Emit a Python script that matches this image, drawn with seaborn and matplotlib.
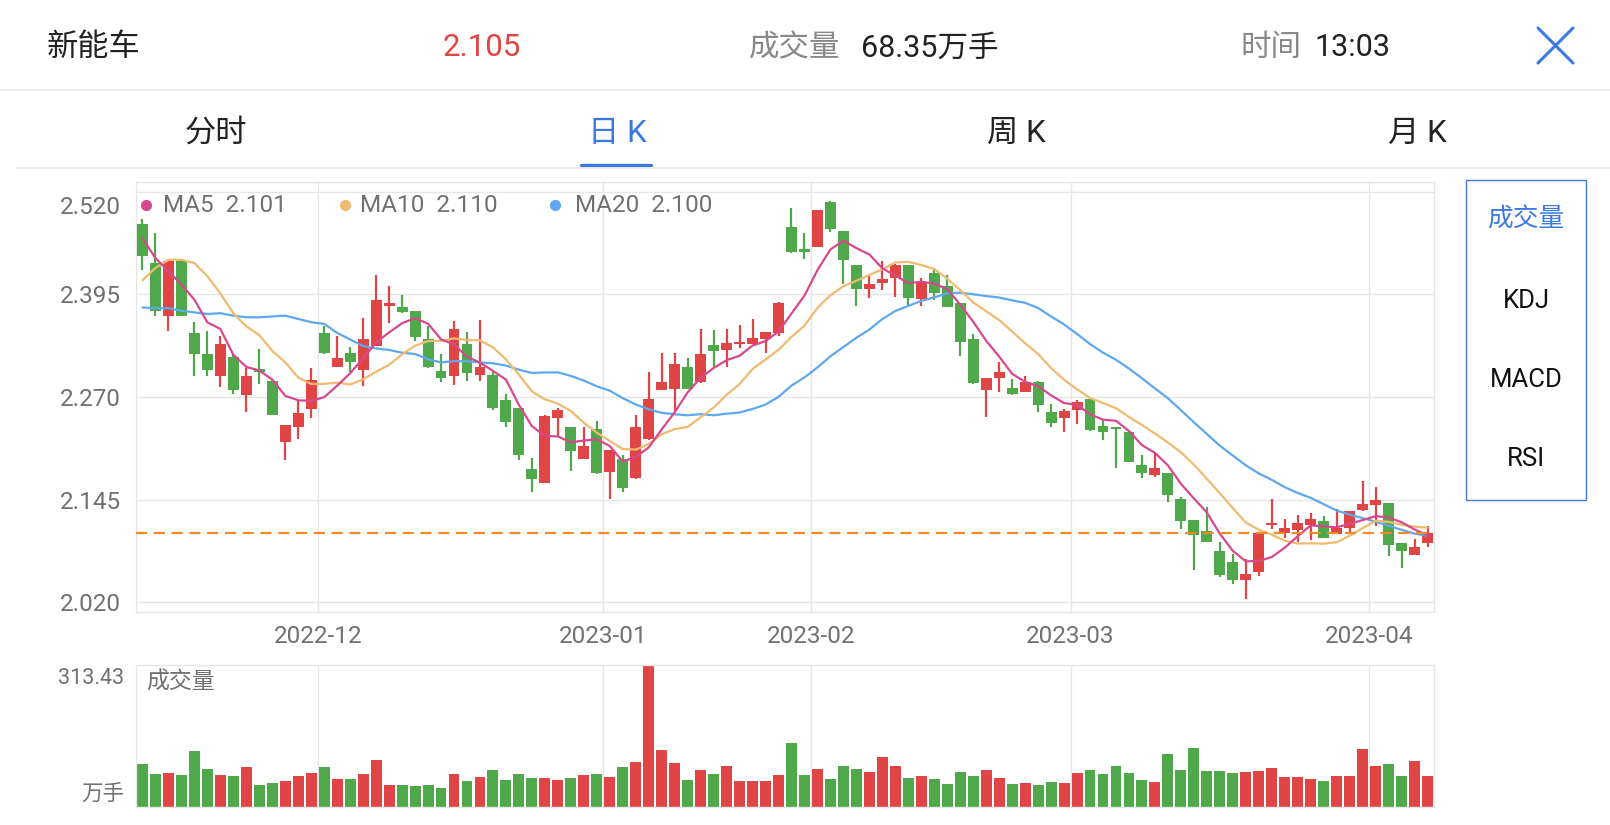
# plot.py -- daily K chart (新能车) with MA lines and volume panel
import numpy as np
import pandas as pd
import seaborn as sns
import matplotlib.pyplot as plt
import matplotlib.transforms as mtransforms
from matplotlib.lines import Line2D
from matplotlib.patches import Rectangle

sns.set_theme(style="white")
plt.rcParams['font.family'] = ['Roboto', 'Noto Sans CJK SC', 'DejaVu Sans']

# --- data (100 trading days, 2022-11-11 .. 2023-04-10)
opens = [2.481, 2.433, 2.368, 2.435, 2.348, 2.322, 2.295, 2.319, 2.272, 2.304,
         2.290, 2.215, 2.234, 2.255, 2.348, 2.307, 2.324, 2.303, 2.332, 2.381,
         2.380, 2.375, 2.341, 2.302, 2.295, 2.334, 2.297, 2.297, 2.266, 2.257,
         2.182, 2.165, 2.244, 2.233, 2.195, 2.231, 2.179, 2.194, 2.172, 2.219,
         2.278, 2.280, 2.307, 2.288, 2.333, 2.327, 2.334, 2.335, 2.340, 2.348,
         2.477, 2.450, 2.452, 2.507, 2.472, 2.431, 2.401, 2.409, 2.415, 2.431,
         2.389, 2.421, 2.405, 2.384, 2.340, 2.278, 2.293, 2.281, 2.276, 2.288,
         2.252, 2.245, 2.254, 2.268, 2.235, 2.233, 2.227, 2.187, 2.175, 2.178,
         2.146, 2.120, 2.107, 2.083, 2.069, 2.047, 2.057, 2.114, 2.104, 2.108,
         2.114, 2.119, 2.103, 2.111, 2.133, 2.138, 2.141, 2.092, 2.078, 2.092]
closes = [2.441, 2.375, 2.435, 2.369, 2.322, 2.303, 2.335, 2.278, 2.295, 2.300,
          2.248, 2.236, 2.251, 2.291, 2.323, 2.318, 2.312, 2.341, 2.388, 2.384,
          2.374, 2.343, 2.307, 2.293, 2.353, 2.299, 2.307, 2.257, 2.240, 2.199,
          2.170, 2.247, 2.254, 2.204, 2.210, 2.178, 2.206, 2.159, 2.233, 2.267,
          2.288, 2.310, 2.280, 2.322, 2.326, 2.336, 2.337, 2.342, 2.349, 2.384,
          2.446, 2.446, 2.497, 2.475, 2.437, 2.401, 2.407, 2.413, 2.431, 2.391,
          2.409, 2.396, 2.379, 2.337, 2.287, 2.293, 2.300, 2.274, 2.288, 2.260,
          2.238, 2.253, 2.264, 2.230, 2.227, 2.231, 2.191, 2.178, 2.183, 2.151,
          2.119, 2.102, 2.093, 2.053, 2.047, 2.055, 2.104, 2.117, 2.110, 2.117,
          2.121, 2.098, 2.111, 2.131, 2.140, 2.145, 2.090, 2.082, 2.087, 2.105]
highs = [2.487, 2.469, 2.437, 2.437, 2.361, 2.350, 2.344, 2.322, 2.305, 2.329,
         2.291, 2.236, 2.265, 2.305, 2.357, 2.344, 2.331, 2.366, 2.419, 2.405,
         2.394, 2.375, 2.356, 2.322, 2.362, 2.349, 2.364, 2.301, 2.274, 2.257,
         2.196, 2.248, 2.257, 2.233, 2.233, 2.241, 2.206, 2.200, 2.248, 2.300,
         2.323, 2.323, 2.318, 2.353, 2.352, 2.353, 2.358, 2.365, 2.349, 2.386,
         2.500, 2.470, 2.498, 2.508, 2.472, 2.431, 2.417, 2.435, 2.432, 2.431,
         2.415, 2.424, 2.418, 2.384, 2.347, 2.293, 2.312, 2.292, 2.295, 2.289,
         2.262, 2.256, 2.266, 2.269, 2.242, 2.233, 2.227, 2.199, 2.202, 2.178,
         2.148, 2.120, 2.136, 2.093, 2.079, 2.073, 2.104, 2.146, 2.122, 2.127,
         2.129, 2.125, 2.134, 2.131, 2.168, 2.160, 2.141, 2.092, 2.097, 2.113]
lows = [2.424, 2.369, 2.350, 2.368, 2.295, 2.295, 2.282, 2.274, 2.252, 2.286,
        2.248, 2.193, 2.219, 2.244, 2.322, 2.307, 2.301, 2.283, 2.332, 2.360,
        2.372, 2.338, 2.305, 2.288, 2.284, 2.289, 2.290, 2.254, 2.234, 2.193,
        2.154, 2.165, 2.223, 2.180, 2.195, 2.176, 2.146, 2.155, 2.170, 2.218,
        2.278, 2.252, 2.280, 2.287, 2.307, 2.307, 2.330, 2.335, 2.324, 2.344,
        2.445, 2.438, 2.452, 2.471, 2.407, 2.381, 2.390, 2.400, 2.392, 2.382,
        2.381, 2.388, 2.379, 2.320, 2.286, 2.246, 2.276, 2.272, 2.276, 2.252,
        2.233, 2.228, 2.237, 2.229, 2.218, 2.183, 2.191, 2.171, 2.173, 2.142,
        2.109, 2.059, 2.093, 2.051, 2.043, 2.024, 2.052, 2.109, 2.099, 2.094,
        2.096, 2.098, 2.103, 2.103, 2.131, 2.113, 2.077, 2.062, 2.078, 2.088]
volumes = [96.0, 73.4, 74.9, 69.8, 123.6, 84.4, 70.5, 67.6, 88.7, 49.5,
           53.1, 57.5, 69.1, 75.6, 88.7, 62.5, 62.5, 73.4, 104.0, 48.0,
           48.7, 45.8, 49.5, 42.9, 72.0, 58.2, 66.9, 82.2, 60.4, 73.4,
           64.7, 64.7, 60.4, 63.3, 70.5, 73.4, 65.5, 87.3, 99.6, 313.43,
           125.8, 96.7, 58.9, 81.4, 73.4, 90.2, 58.2, 58.2, 57.5, 69.8,
           141.8, 70.5, 82.9, 62.5, 90.9, 84.4, 77.1, 111.3, 90.2, 64.0,
           69.1, 62.5, 50.9, 77.1, 68.4, 81.4, 64.7, 50.2, 53.8, 49.5,
           56.0, 53.8, 75.6, 81.4, 72.7, 89.4, 75.6, 58.9, 55.3, 117.1,
           82.2, 130.2, 78.5, 80.0, 75.6, 77.1, 80.0, 85.8, 65.5, 66.9,
           62.5, 58.2, 68.4, 68.4, 128.0, 90.9, 95.3, 68.4, 101.8, 68.35]

# MA values for the first days, whose window starts before the visible range
ma5_head = [2.463, 2.439, 2.423, 2.407]
ma10_head = [2.412, 2.427, 2.437, 2.437, 2.433, 2.417, 2.396, 2.372, 2.356]
ma20_head = [2.379, 2.378, 2.378, 2.375, 2.373, 2.371, 2.372, 2.369, 2.367, 2.367,
             2.368, 2.369, 2.365, 2.361, 2.359, 2.348, 2.340, 2.332, 2.329]

month_labels = ["2022-12", "2023-01", "2023-02", "2023-03", "2023-04"]
month_first_idx = [14, 36, 52, 72, 95]
price_ticks = [2.020, 2.145, 2.270, 2.395, 2.520]
last_price = 2.105
vol_max = 313.43

RED = "#e04545"
GREEN = "#4fa84a"
MA5_C, MA10_C, MA20_C = "#d8488f", "#f0bb70", "#5ea8f0"
GRID_C = "#e6e6e6"
BLUE = "#3b78e0"
LABEL_C = "#707070"

W, H = 1610, 825
fx = lambda x: x / W
fy = lambda y: 1 - y / H

df = pd.DataFrame({"open": opens, "high": highs, "low": lows, "close": closes, "vol": volumes})
df["idx"] = np.arange(len(df))
df["dir"] = np.where(df.close >= df.open, "up", "down")
colors = df["dir"].map({"up": RED, "down": GREEN})


def moving_avg(n, head):
    ma = df.close.rolling(n).mean()
    ma.iloc[:len(head)] = head
    return ma


df["ma5"] = moving_avg(5, ma5_head)
df["ma10"] = moving_avg(10, ma10_head)
df["ma20"] = moving_avg(20, ma20_head)

fig = plt.figure(figsize=(W / 100, H / 100), dpi=100)
fig.patch.set_facecolor("white")

# ---------------- price panel
ax = fig.add_axes([fx(136), fy(612.3), fx(1434) - fx(136), fy(181.7) - fy(612.3)])
ax.vlines(df.idx, df.low, df.high, colors=colors, lw=1.6, zorder=2)
body_h = np.maximum((df.close - df.open).abs(), 0.0015)
ax.bar(df.idx, body_h, bottom=np.minimum(df.open, df.close), width=0.84,
       color=colors, linewidth=0, zorder=3)
for col, c in [("ma20", MA20_C), ("ma10", MA10_C), ("ma5", MA5_C)]:
    sns.lineplot(x=df.idx, y=df[col], color=c, lw=1.6, ax=ax, zorder=4)
ax.axhline(last_price, color="#f08a24", lw=1.6, ls=(0, (5, 3)), zorder=5)

ax.set_xlim(-0.5, len(df) - 0.5)
ax.set_ylim(2.008, 2.532)
ax.set_yticks(price_ticks)
ax.set_yticklabels([f"{v:.3f}" for v in price_ticks])
ax.set_xticks([i - 0.5 for i in month_first_idx])
ax.set_xticklabels(month_labels)
ax.set_xlabel("")
ax.set_ylabel("")
ax.grid(True, color=GRID_C, lw=1)
ax.set_axisbelow(True)
ax.tick_params(length=0, labelsize=17.5, labelcolor=LABEL_C)
ax.tick_params(axis="y", pad=11)
ax.tick_params(axis="x", pad=9)
# the top price label sits a little below its grid line
top_lbl = ax.get_yticklabels()[-1]
top_lbl.set_transform(top_lbl.get_transform() +
                      mtransforms.ScaledTranslation(0, -13 / 100, fig.dpi_scale_trans))
for s in ax.spines.values():
    s.set_color(GRID_C)
    s.set_linewidth(1)

# legend row
for (dx, tx, c, label) in [(146, 163, MA5_C, "MA5  2.101"),
                           (345, 360, MA10_C, "MA10  2.110"),
                           (555, 575, MA20_C, "MA20  2.100")]:
    fig.add_artist(Line2D([fx(dx)], [fy(205)], marker="o", ms=7, color=c,
                          transform=fig.transFigure, lw=0))
    fig.text(fx(tx), fy(205), label, fontsize=17.5, color=LABEL_C, va="center")

# ---------------- volume panel
axv = fig.add_axes([fx(136), fy(807), fx(1434) - fx(136), fy(665) - fy(807)])
sns.barplot(data=df, x="idx", y="vol", hue="dir", palette={"up": RED, "down": GREEN},
            native_scale=True, dodge=False, width=0.84, saturation=1,
            errorbar=None, legend=False, linewidth=0, ax=axv)
axv.set_xlim(-0.5, len(df) - 0.5)
axv.set_ylim(0, vol_max)
axv.set_xticks([i - 0.5 for i in month_first_idx])
axv.set_xticklabels([])
axv.set_yticks([])
axv.set_xlabel("")
axv.set_ylabel("")
axv.grid(True, axis="x", color=GRID_C, lw=1)
axv.set_axisbelow(True)
axv.tick_params(length=0)
for s in axv.spines.values():
    s.set_color(GRID_C)
    s.set_linewidth(1)
fig.text(fx(124), fy(678), f"{vol_max:.2f}", fontsize=15.5, color=LABEL_C, ha="right", va="center")
fig.text(fx(124), fy(794), "万手", fontsize=15.5, color=LABEL_C, ha="right", va="center")
fig.text(fx(146), fy(682), "成交量", fontsize=16.5, color=LABEL_C, va="center")

# ---------------- header
fig.text(fx(47), fy(48), "新能车", fontsize=22.5, color="#222222", va="center")
fig.text(fx(443), fy(48), f"{last_price:.3f}", fontsize=22.5, color=RED, va="center")
fig.text(fx(749), fy(48), "成交量", fontsize=22, color="#888888", va="center")
fig.text(fx(861), fy(48), "68.35万手", fontsize=22, color="#222222", va="center")
fig.text(fx(1240), fy(48), "时间", fontsize=22, color="#888888", va="center")
fig.text(fx(1314), fy(48), "13:03", fontsize=22, color="#222222", va="center")
for (x0, y0, x1, y1) in [(1538, 28, 1573, 63), (1573, 28, 1538, 63)]:
    fig.add_artist(Line2D([fx(x0), fx(x1)], [fy(y0), fy(y1)], color=BLUE, lw=2.2,
                          transform=fig.transFigure))
fig.add_artist(Line2D([0, 1], [fy(90), fy(90)], color="#e6e6e6", lw=1.2,
                      transform=fig.transFigure))

# tabs
for (x, label, c) in [(216, "分时", "#222222"), (617, "日 K", BLUE),
                      (1016, "周 K", "#222222"), (1417, "月 K", "#222222")]:
    fig.text(fx(x), fy(133), label, fontsize=22.5, color=c, ha="center", va="center")
fig.add_artist(Line2D([fx(581), fx(651)], [fy(165), fy(165)], color=BLUE, lw=2.4,
                      transform=fig.transFigure))
fig.add_artist(Line2D([fx(16), 1], [fy(168), fy(168)], color="#e6e6e6", lw=1.2,
                      transform=fig.transFigure))

# indicator selector on the right
fig.add_artist(Rectangle((fx(1466), fy(500)), fx(1586) - fx(1466), fy(180) - fy(500),
                         transform=fig.transFigure, fill=False, ec="#4a7ad8", lw=1))
for (y, label, c) in [(220, "成交量", BLUE), (301, "KDJ", "#111111"),
                      (380, "MACD", "#111111"), (459, "RSI", "#111111")]:
    fig.text(fx(1526), fy(y), label, fontsize=18.5, color=c, ha="center", va="center")

fig.savefig("out.png", dpi=100)
